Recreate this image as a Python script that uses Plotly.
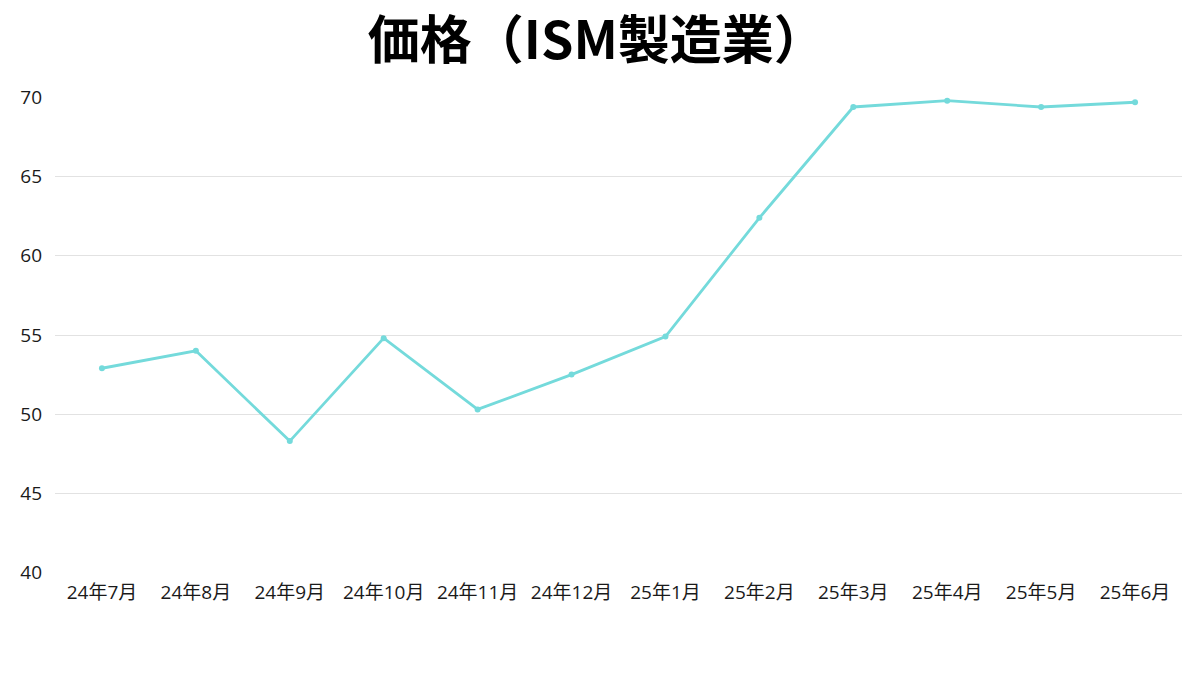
import plotly.graph_objects as go

# data
months = ['24年7月', '24年8月', '24年9月', '24年10月', '24年11月', '24年12月',
          '25年1月', '25年2月', '25年3月', '25年4月', '25年5月', '25年6月']
prices = [52.9, 54.0, 48.3, 54.8, 50.3, 52.5, 54.9, 62.4, 69.4, 69.8, 69.4, 69.7]
y_ticks = [40, 45, 50, 55, 60, 65, 70]

line_color = '#74DADB'

fig = go.Figure()
fig.add_trace(go.Scatter(
    x=months,
    y=prices,
    mode='lines+markers',
    line=dict(color=line_color, width=2.8),
    marker=dict(color=line_color, size=6),
    showlegend=False
))

# page body has an 8px margin, so the figure is a bit smaller than the window
fig.update_layout(
    width=1192, height=667,
    paper_bgcolor='white',
    plot_bgcolor='white',
    margin=dict(l=47, r=18, t=89, b=102, autoexpand=False),
    title=dict(
        text='価格（ISM製造業）',
        x=0.494, xanchor='center',
        y=0.951, yanchor='middle',
        font=dict(family='Noto Sans CJK JP', size=52, color='black', weight='bold')
    ),
    font=dict(family='Open Sans, Noto Sans CJK JP', size=19, color='#1a1a1a')
)

fig.update_xaxes(
    range=[-0.5, len(months) - 0.5],
    showgrid=False,
    showline=False,
    zeroline=False,
    ticks='',
    automargin=False,
    ticklabelstandoff=6,
    tickfont=dict(size=19, color='#1a1a1a')
)
fig.update_yaxes(
    range=[39.97, 70.03],
    tickvals=y_ticks,
    showgrid=True,
    gridcolor='#E2E2E2',
    gridwidth=1,
    zeroline=False,
    showline=False,
    ticks='',
    automargin=False,
    ticklabelstandoff=12,
    tickfont=dict(size=19, color='#1a1a1a')
)

fig.write_html("out.html")
